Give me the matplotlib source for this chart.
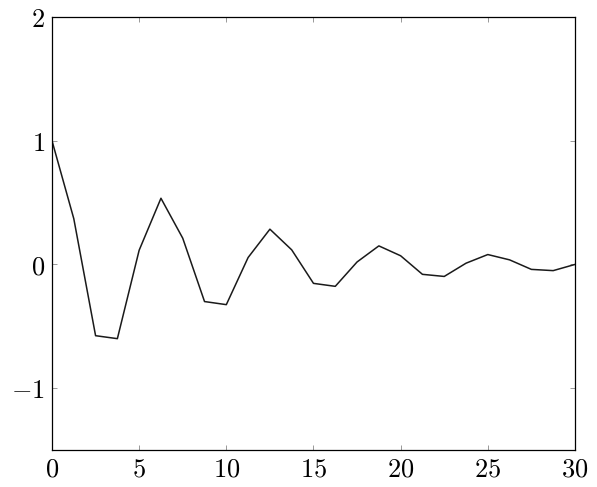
import matplotlib
matplotlib.use('Agg')
import matplotlib.pyplot as plt

plt.rcParams['mathtext.fontset'] = 'cm'
plt.rcParams['font.family'] = 'serif'
plt.rcParams['font.serif'] = ['DejaVu Serif']

# sample positions and values
x_vals = [0, 1.25, 2.5, 3.75, 5, 6.25, 7.5, 8.75, 10, 11.25, 12.5, 13.75,
          15, 16.25, 17.5, 18.75, 20, 21.25, 22.5, 23.75, 25, 26.25, 27.5, 28.75, 30]
y_vals = [1.0, 0.37, -0.576, -0.60, 0.115, 0.535, 0.212, -0.30, -0.325, 0.056, 0.285, 0.118,
          -0.153, -0.177, 0.02, 0.15, 0.07, -0.08, -0.097, 0.01, 0.08, 0.037, -0.04, -0.05, 0.0]

x_ticks = [0, 5, 10, 15, 20, 25, 30]
y_ticks = [-1, 0, 1, 2]

fig = plt.figure(figsize=(5.97, 4.87), dpi=100)
ax = fig.add_axes([0.0871, 0.076, 0.876, 0.889])

ax.plot(x_vals, y_vals, color='#1a1a1a', linewidth=1.1)

ax.set_xlim(0, 30)
ax.set_ylim(-1.5, 2)
ax.set_xticks(x_ticks)
ax.set_yticks(y_ticks)
ax.set_xticklabels(['$%d$' % t for t in x_ticks])
ax.set_yticklabels(['$%d$' % t for t in y_ticks])

ax.tick_params(direction='in', length=3.5, width=0.6, color='#888888',
               top=True, right=True, labelsize=19, pad=5)
for s in ax.spines.values():
    s.set_linewidth(0.9)

fig.savefig('out.png', dpi=100)
